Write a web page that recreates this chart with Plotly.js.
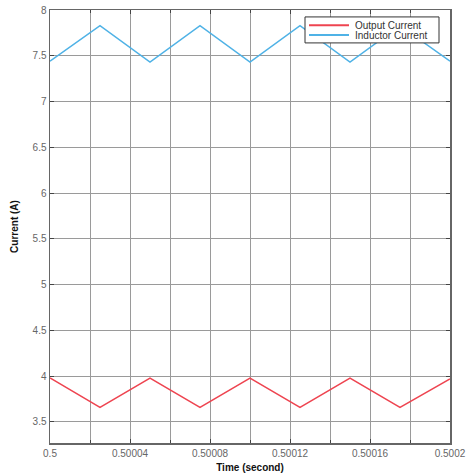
<!DOCTYPE html>
<html>
<head>
<meta charset="utf-8">
<script src="https://cdn.plot.ly/plotly-3.0.1.min.js"></script>
<style>html,body{margin:0;padding:0;background:#fff;}#chart{width:474px;height:476px;}</style>
</head>
<body>
<div id="chart"></div>
<script>
// Time samples (s): corners of the triangle waves
const time = [0.5, 0.500025, 0.50005, 0.500075, 0.5001, 0.500125, 0.50015, 0.500175, 0.5002];
const outputCurrent = [3.98, 3.66, 3.98, 3.66, 3.98, 3.66, 3.98, 3.66, 3.97];
const inductorCurrent = [7.44, 7.83, 7.43, 7.83, 7.43, 7.83, 7.43, 7.83, 7.44];
const seriesNames = ['Output Current', 'Inductor Current'];
const seriesColors = ['#ee4450', '#4fb2e6'];
const xTickVals = [0.5, 0.50004, 0.50008, 0.50012, 0.50016, 0.5002];
const xTickText = ['0.5', '0.50004', '0.50008', '0.50012', '0.50016', '0.5002'];
const yTickVals = [3.5, 4, 4.5, 5, 5.5, 6, 6.5, 7, 7.5, 8];
const yTickText = ['3.5', '4', '4.5', '5', '5.5', '6', '6.5', '7', '7.5', '8'];

const series = [outputCurrent, inductorCurrent];
const traces = series.map((ys, i) => ({
  x: time, y: ys, name: seriesNames[i], mode: 'lines', showlegend: false,
  line: {color: seriesColors[i], width: 1.5}
}));

// compact legend box (MATLAB style) built in paper coordinates
const legBox = {x0: 0.6375, x1: 0.9725, y0: 0.924, y1: 0.984};
const legRows = [0.965, 0.942];
const shapes = [{type: 'rect', xref: 'paper', yref: 'paper', x0: legBox.x0, x1: legBox.x1, y0: legBox.y0, y1: legBox.y1,
                 fillcolor: '#fff', line: {color: '#333', width: 1}, layer: 'above'}];
const annotations = [];
seriesNames.forEach((n, i) => {
  shapes.push({type: 'line', xref: 'paper', yref: 'paper', x0: 0.6475, x1: 0.7475, y0: legRows[i], y1: legRows[i],
               line: {color: seriesColors[i], width: 2}, layer: 'above'});
  annotations.push({xref: 'paper', yref: 'paper', x: 0.7575, y: legRows[i], xanchor: 'left', yanchor: 'middle',
                    text: n, showarrow: false, font: {size: 10, color: '#333'}});
});

const layout = {
  width: 474, height: 476,
  margin: {l: 50, r: 24, t: 10, b: 33},
  paper_bgcolor: '#fff', plot_bgcolor: '#fff',
  font: {family: 'Liberation Sans, Arial, sans-serif', size: 10, color: '#666'},
  showlegend: false,
  shapes: shapes, annotations: annotations,
  xaxis: {
    range: [0.5, 0.5002], tickmode: 'array', tickvals: xTickVals, ticktext: xTickText,
    showgrid: true, gridcolor: '#9a9a9a', gridwidth: 1,
    minor: {dtick: 0.00002, tick0: 0.5, showgrid: true, gridcolor: '#9a9a9a', gridwidth: 1, ticks: 'inside', ticklen: 3, tickcolor: '#444'},
    showline: true, linecolor: '#666', linewidth: 1.5, mirror: 'ticks',
    ticks: 'inside', ticklen: 4, tickcolor: '#444', zeroline: false,
    tickfont: {size: 10, color: '#666'},
    title: {text: '<b>Time (second)</b>', font: {size: 10, color: '#111'}, standoff: 6}
  },
  yaxis: {
    range: [3.27, 8], tickmode: 'array', tickvals: yTickVals, ticktext: yTickText,
    showgrid: true, gridcolor: '#9a9a9a', gridwidth: 1,
    showline: true, linecolor: '#666', linewidth: 1.5, mirror: 'ticks',
    ticks: 'inside', ticklen: 4, tickcolor: '#444', zeroline: false,
    tickfont: {size: 10, color: '#666'},
    title: {text: '<b>Current (A)</b>', font: {size: 10, color: '#111'}, standoff: 12}
  }
};
Plotly.newPlot('chart', traces, layout, {displayModeBar: false, staticPlot: true});
</script>
</body>
</html>
